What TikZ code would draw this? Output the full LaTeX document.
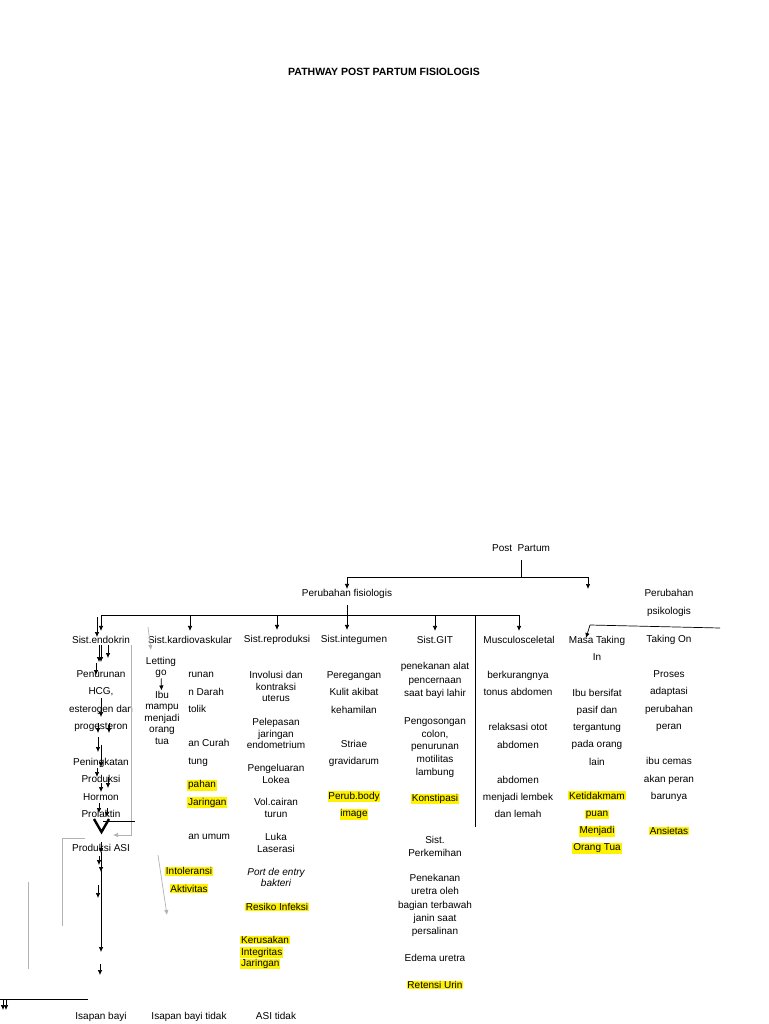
\documentclass[tikz,border=0pt]{standalone}
\usepackage{fontspec}
\setmainfont{Liberation Sans}
\usetikzlibrary{arrows.meta}
\setlength\fboxsep{0.8pt}
\def\hlt#1{\colorbox{yellow}{#1}}
\def\drawarr{\draw[->]}
\def\drawgray{\draw[gray!60]}
\tikzset{>={Latex[length=5pt,width=4.5pt]}}

\begin{document}
\begin{tikzpicture}[x=1pt,y=-1pt,line width=0.7pt,
txt/.style={font=\fontsize{10}{17.25}\selectfont,align=center,inner sep=0pt},
tight/.style={txt,font=\fontsize{10}{11.5}\selectfont},
mid/.style={txt,font=\fontsize{10}{13.2}\selectfont}]
\useasboundingbox (0,0) rectangle (768,1024);
\node[inner sep=0pt,font=\fontsize{10.5}{12}\selectfont\bfseries] (title) at (384,72) {PATHWAY POST PARTUM FISIOLOGIS};
\node[txt] (post) at (521,548) {Post\ \ Partum};
\node[txt] (fis) at (347,594) {Perubahan fisiologis};
\node[txt] (psi) at (669,603) {Perubahan\\psikologis};
\coordinate (pp) at (521,577);
\coordinate (psiend) at (588,589);
\draw[shorten <=8pt] (post) -- (pp);
\drawarr (pp) -| (fis);
\drawarr (pp) -| (psiend);
\coordinate (fj) at (347,615);
\draw[shorten <=6pt] (fis) -- (fj);
\node[txt] (endo) at (101,640) {Sist.endokrin};
\node[txt] (kardio) at (190,640) {Sist.kardiovaskular};
\node[txt] (repro) at (277,640) {Sist.reproduksi};
\node[txt] (integ) at (354,640) {Sist.integumen};
\node[txt] (git) at (435,640) {Sist.GIT};
\node[txt] (musk) at (519,640) {Musculosceletal};
\foreach \n in {endo,kardio,repro,git,musk}
\drawarr[shorten >=5pt] (fj) -| (\n);
\drawarr[shorten >=5pt] (fj) -- (fj |- integ.north);
\coordinate (sepa) at (475,615);
\coordinate (sepb) at (475,827);
\draw (sepa) -- (sepb);
\coordinate (pl1) at (590,625);
\coordinate (pl2) at (720,628);
\draw (pl1) -- (pl2);
\node[txt] (masa) at (597,648.5) {Masa Taking\\In};
\node[txt] (takon) at (669,640) {Taking On};
\coordinate (masain) at (586,638);
\drawarr (pl1) -- (masain);
\node[txt] (turun) at (101,701) {Penurunan\\HCG,\\esterogen dan\\progesteron};
\node[txt] (naik) at (101,788) {Peningkatan\\Produksi\\Hormon\\Prolaktin};
\node[txt] (asi) at (101,848) {Produksi ASI};
\foreach \x/\ya/\yb in {97/617/637,99/645/662,101/645/662,108/645/658,96/663/675,101/698/717,98/723/733,109/723/733,98/737/752,101/745/767,97/768/777,108/777/788,101/783/792,99/803/813,107/808/817,101/842/853,99/856/865,101/860/872,98/885/898,100/964/975,3/999/1010,6/999/1010}{
\coordinate (a) at (\x,\ya);
\coordinate (b) at (\x,\yb);
\drawarr (a) -- (b);
}
\coordinate (vl) at (94,819);
\coordinate (vm) at (101.5,832);
\coordinate (vr) at (109,819);
\draw[line width=2.4pt] (vl) -- (vm) -- (vr);
\coordinate (asiend) at (101,952);
\drawarr (asi) -- (asiend);
\coordinate (g1) at (131,645);
\coordinate (g2) at (131,835);
\coordinate (g3) at (113,835);
\drawgray[->] (g1) -- (g2) -- (g3);
\coordinate (h1) at (103,821);
\coordinate (h2) at (135,821);
\draw (h1) -- (h2);
\coordinate (l1) at (85,838);
\coordinate (l2) at (62,838);
\coordinate (l3) at (62,926);
\drawgray (l1) -- (l2) -- (l3);
\coordinate (m1) at (28,882);
\coordinate (m2) at (28,969);
\drawgray (m1) -- (m2);
\coordinate (n1) at (0,999);
\coordinate (n2) at (88,999);
\draw (n1) -- (n2);
\node[tight] (letgo) at (161,667.5) {Letting\\go};
\node[tight] (mampu) at (162,717.5) {Ibu\\mampu\\menjadi\\orang\\tua};
\coordinate (k1) at (148,627);
\coordinate (k2) at (151,650);
\drawgray[->] (k1) -- (k2);
\drawarr (letgo) -- (mampu);
\node[txt,align=left,anchor=west] (kd1) at (188,692.5) {runan\\n Darah\\tolik};
\node[txt,align=left,anchor=west] (kd2) at (188,753) {an Curah\\tung};
\node[txt,align=left,anchor=west] (kd3) at (187,794) {\hlt{pahan}\\\hlt{Jaringan}};
\node[txt,anchor=west] (kd4) at (188,837) {an umum};
\node[txt] (intol) at (189,880) {\hlt{Intoleransi}\\\hlt{Aktivitas}};
\coordinate (k3) at (158,855);
\coordinate (k4) at (167,915);
\drawgray[->] (k3) -- (k4);
\node[tight] (inv) at (276,686.5) {Involusi dan\\kontraksi\\uterus};
\node[tight] (lepas) at (276,733.5) {Pelepasan\\jaringan\\endometrium};
\node[tight] (lokea) at (276,774) {Pengeluaran\\Lokea};
\node[tight] (vol) at (276,808) {Vol.cairan\\turun};
\node[tight] (luka) at (276,843) {Luka\\Laserasi};
\node[tight,font=\fontsize{10}{11.5}\selectfont\itshape] (port) at (276,877.5) {Port de entry\\bakteri};
\node[txt] (resiko) at (277,907) {\hlt{Resiko Infeksi}};
\node[tight,align=left,anchor=west] (rusak) at (240,952.5) {\hlt{Kerusakan}\\\hlt{Integritas}\\\hlt{Jaringan}};
\node[txt] (regang) at (354,692.5) {Peregangan\\Kulit akibat\\kehamilan};
\node[txt] (striae) at (354,753.5) {Striae\\gravidarum};
\node[txt] (body) at (354,805.5) {\hlt{Perub.body}\\\hlt{image}};
\node[mid] (tekan) at (435,680.5) {penekanan alat\\pencernaan\\saat bayi lahir};
\node[mid,font=\fontsize{10}{12.9}\selectfont] (kosong) at (435,747.5) {Pengosongan\\colon,\\penurunan\\motilitas\\lambung};
\node[txt] (konsti) at (435,799) {\hlt{Konstipasi}};
\node[mid] (kemih) at (435,846.5) {Sist.\\Perkemihan};
\node[mid] (uretra) at (435,905.5) {Penekanan\\uretra oleh\\bagian terbawah\\janin saat\\persalinan};
\node[txt] (edema) at (435,958) {Edema uretra};
\node[txt] (retensi) at (435,985) {\hlt{Retensi Urin}};
\node[txt] (tonus) at (518,683.5) {berkurangnya\\tonus abdomen};
\node[txt] (relaks) at (518,736) {relaksasi otot\\abdomen};
\node[txt] (lembek) at (518,797) {abdomen\\menjadi lembek\\dan lemah};
\node[txt] (pasif) at (597,727) {Ibu bersifat\\pasif dan\\tergantung\\pada orang\\lain};
\node[txt] (ortu) at (597,822.5) {\hlt{Ketidakmam}\\\hlt{puan}\\\hlt{Menjadi}\\\hlt{Orang Tua}};
\node[txt] (adapt) at (669,701) {Proses\\adaptasi\\perubahan\\peran};
\node[txt] (cemas) at (669,779.5) {ibu cemas\\akan peran\\barunya};
\node[txt] (ansie) at (669,831) {\hlt{Ansietas}};
\node[txt,anchor=base] (isap) at (101,1019) {Isapan bayi};
\node[txt,anchor=base] (isap2) at (189,1019) {Isapan bayi tidak};
\node[txt,anchor=base] (asitdk) at (276,1019) {ASI tidak};
\end{tikzpicture}
\end{document}
